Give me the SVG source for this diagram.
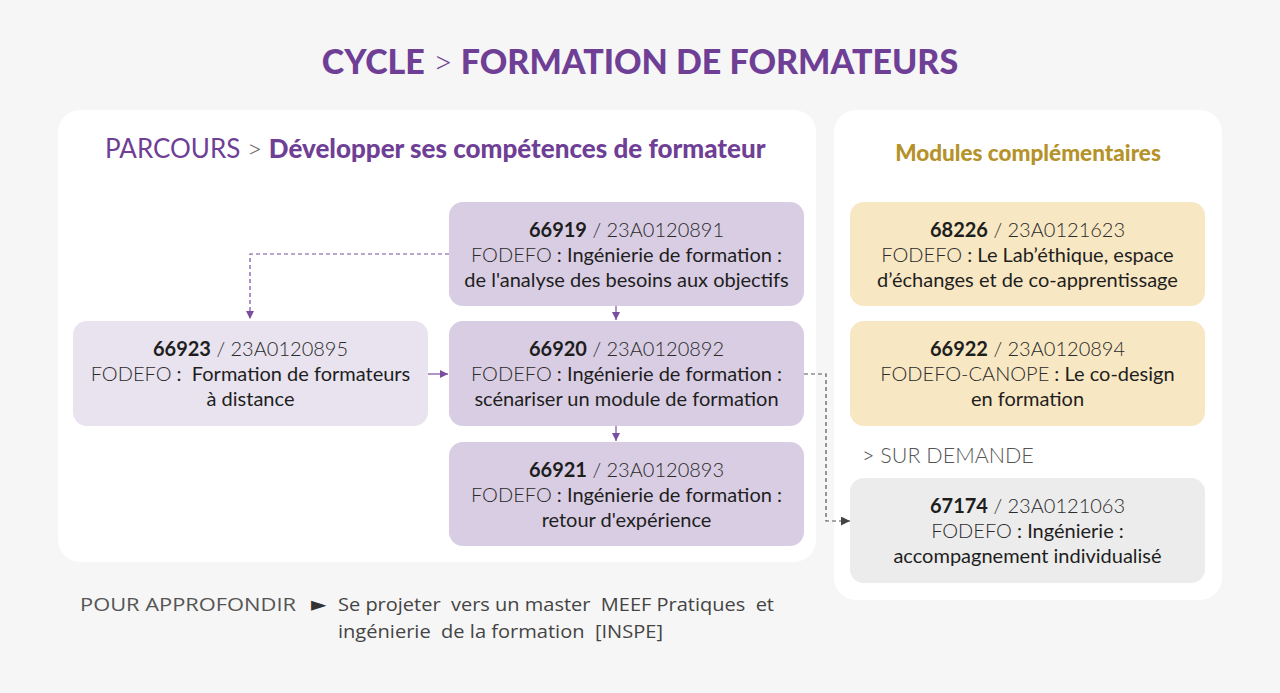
<svg xmlns="http://www.w3.org/2000/svg" width="1280" height="693" viewBox="0 0 1280 693">
<defs>
<style>
.t{font-family:Lato,"Noto Sans","Liberation Sans",sans-serif;font-size:20px;fill:#1e1e1e;text-anchor:middle}
.b{font-weight:bold}
.l{font-weight:300;fill:#2a2a2a}
.panel{fill:#ffffff}
.p1{fill:#d9cde3}
.p2{fill:#e8e3ef}
.y{fill:#f8e7c3}
.g{fill:#ececec}
.pc{stroke:#7a4d9e;stroke-width:1.2;fill:none}
.gc{stroke:#555555;stroke-width:1.2;fill:none}
</style>
<marker id="ap" viewBox="0 0 10 10" refX="10" refY="5" markerWidth="8" markerHeight="8" markerUnits="userSpaceOnUse" orient="auto"><path d="M0,0L10,5L0,10z" fill="#7a4d9e"/></marker>
<marker id="ag" viewBox="0 0 10 10" refX="10" refY="5" markerWidth="9" markerHeight="9" markerUnits="userSpaceOnUse" orient="auto"><path d="M0,0L10,5L0,10z" fill="#444444"/></marker>
</defs>
<rect width="1280" height="693" fill="#f6f6f6"/>
<text x="640" y="74" text-anchor="middle" font-family="Lato,'Noto Sans',sans-serif" font-size="34" font-weight="900" fill="#6f3f96">CYCLE <tspan font-weight="300">&gt;</tspan> FORMATION DE FORMATEURS</text>
<rect class="panel" x="58" y="110" width="758" height="452" rx="22"/>
<rect class="panel" x="834" y="110" width="388" height="490" rx="22"/>
<text x="105" y="158" font-family="Lato,'Noto Sans',sans-serif" font-size="26" fill="#6f3f96">PARCOURS <tspan fill="#666666" font-weight="300">&gt;</tspan> <tspan font-weight="900">Développer ses compétences de formateur</tspan></text>
<text x="1028" y="161" text-anchor="middle" font-family="Lato,'Noto Sans',sans-serif" font-size="22.5" font-weight="900" fill="#b5922a">Modules complémentaires</text>
<g id="connectors">
<path class="pc" d="M449,254H250V319" stroke-dasharray="4,3" marker-end="url(#ap)"/>
<path class="pc" d="M616,306V320" marker-end="url(#ap)"/>
<path class="pc" d="M616,426V441" marker-end="url(#ap)"/>
<path class="pc" d="M428,374H448" marker-end="url(#ap)"/>
<path class="gc" d="M804,374H826V521H850" stroke-dasharray="4,3" marker-end="url(#ag)"/>
</g>
<g id="n66919">
<rect class="p1" x="449" y="202" width="355" height="104" rx="14"/>
<text class="t" x="626.5" y="237"><tspan class="b">66919</tspan><tspan class="l"> / 23A0120891</tspan></text>
<text class="t" x="626.5" y="262"><tspan class="l">FODEFO</tspan> : Ingénierie de formation :</text>
<text class="t" x="626.5" y="287">de l'analyse des besoins aux objectifs</text>
</g>
<g id="n66923">
<rect class="p2" x="73" y="321" width="355" height="105" rx="14"/>
<text class="t" x="250.5" y="356"><tspan class="b">66923</tspan><tspan class="l"> / 23A0120895</tspan></text>
<text class="t" x="250.5" y="381"><tspan class="l">FODEFO</tspan> :&#160; Formation de formateurs</text>
<text class="t" x="250.5" y="406">à distance</text>
</g>
<g id="n66920">
<rect class="p1" x="449" y="321" width="355" height="105" rx="14"/>
<text class="t" x="626.5" y="356"><tspan class="b">66920</tspan><tspan class="l"> / 23A0120892</tspan></text>
<text class="t" x="626.5" y="381"><tspan class="l">FODEFO</tspan> : Ingénierie de formation :</text>
<text class="t" x="626.5" y="406">scénariser un module de formation</text>
</g>
<g id="n66921">
<rect class="p1" x="449" y="442" width="355" height="104" rx="14"/>
<text class="t" x="626.5" y="477"><tspan class="b">66921</tspan><tspan class="l"> / 23A0120893</tspan></text>
<text class="t" x="626.5" y="502"><tspan class="l">FODEFO</tspan> : Ingénierie de formation :</text>
<text class="t" x="626.5" y="527">retour d'expérience</text>
</g>
<g id="n68226">
<rect class="y" x="850" y="202" width="355" height="104" rx="14"/>
<text class="t" x="1027.5" y="237"><tspan class="b">68226</tspan><tspan class="l"> / 23A0121623</tspan></text>
<text class="t" x="1027.5" y="262"><tspan class="l">FODEFO</tspan> : Le Lab’éthique, espace</text>
<text class="t" x="1027.5" y="287">d’échanges et de co-apprentissage</text>
</g>
<g id="n66922">
<rect class="y" x="850" y="321" width="355" height="105" rx="14"/>
<text class="t" x="1027.5" y="356"><tspan class="b">66922</tspan><tspan class="l"> / 23A0120894</tspan></text>
<text class="t" x="1027.5" y="381"><tspan class="l">FODEFO-CANOPE</tspan> : Le co-design</text>
<text class="t" x="1027.5" y="406">en formation</text>
</g>
<text x="862" y="463" font-family="Lato,'Noto Sans',sans-serif" font-size="21.5" font-weight="300" fill="#555555">&gt; SUR DEMANDE</text>
<g id="n67174">
<rect class="g" x="850" y="478" width="355" height="105" rx="14"/>
<text class="t" x="1027.5" y="513"><tspan class="b">67174</tspan><tspan class="l"> / 23A0121063</tspan></text>
<text class="t" x="1027.5" y="538"><tspan class="l">FODEFO</tspan> : Ingénierie :</text>
<text class="t" x="1027.5" y="563">accompagnement individualisé</text>
</g>
<g font-family="'Open Sans','Liberation Sans',sans-serif" font-size="19" fill="#444444">
<text x="80" y="611" fill="#555555" textLength="216" lengthAdjust="spacingAndGlyphs">POUR APPROFONDIR</text>
<text x="311" y="611" font-family="'DejaVu Sans',sans-serif" font-size="20" fill="#333333">►</text>
<text x="338" y="611" textLength="436" lengthAdjust="spacingAndGlyphs">Se projeter&#160; vers un master&#160; MEEF Pratiques&#160; et</text>
<text x="338" y="638" textLength="325" lengthAdjust="spacingAndGlyphs">ingénierie&#160; de la formation&#160; [INSPE]</text>
</g>
</svg>
